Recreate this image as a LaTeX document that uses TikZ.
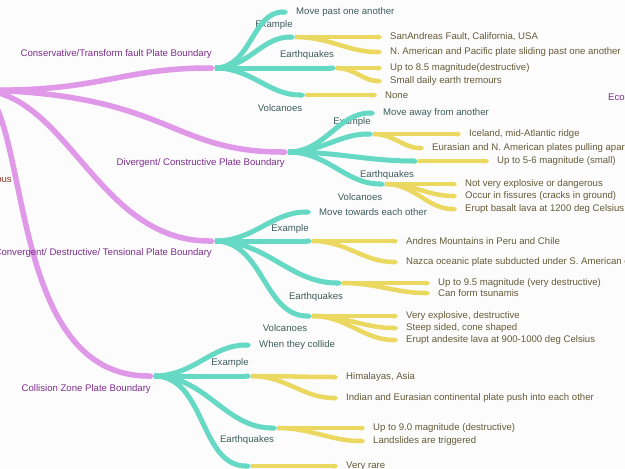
\documentclass[tikz,border=0pt]{standalone}
\usepackage{fontspec}
\setmainfont{Liberation Sans}
\usetikzlibrary{arrows.meta}
\definecolor{bgc}{HTML}{FCFCFC}
\definecolor{pinkc}{HTML}{E098E8}
\definecolor{tealc}{HTML}{66D9C4}
\definecolor{yelc}{HTML}{EBD860}
\definecolor{purpc}{HTML}{7D2E8C}
\definecolor{labc}{HTML}{3E5C5E}
\definecolor{leafc}{HTML}{655A38}
\definecolor{rustc}{HTML}{8B3A2A}

\begin{document}
\begin{tikzpicture}[x=1pt,y=-1pt,
  every node/.style={font=\fontsize{9.6}{11}\selectfont},
  pline/.style={draw=pinkc,line width=5.5pt,-{Triangle Cap[]}},
  tline/.style={draw=tealc,line width=5pt,-{Triangle Cap[]}},
  yline/.style={draw=yelc,line width=4.5pt,-{Triangle Cap[]}},
  leaf/.style={anchor=west,inner xsep=8pt,inner ysep=0pt,text=leafc},
  tleaf/.style={leaf,text=labc},
  tlabel/.style={text=labc,inner sep=0pt},
  plabel/.style={text=purpc,inner sep=0pt,anchor=east}]

  \path[use as bounding box,fill=bgc] (0,0) rectangle (625,469);
  \clip (0,0) rectangle (625,469);

  % junctions
  \coordinate (root) at (-15,90);
  \coordinate (cons) at (215,68);
  \coordinate (div)  at (288,152);
  \coordinate (conv) at (215,241);
  \coordinate (coll) at (154,376);

  % Conservative
  \node[tleaf] (consmove) at (288,12) {Move past one another};
  \coordinate (consex) at (295,37);
  \coordinate (conseq) at (336,68);
  \coordinate (consvo) at (305,95);
  \node[leaf] (consex1) at (382,37) {SanAndreas Fault, California, USA};
  \node[leaf] (consex2) at (382,52) {N. American and Pacific plate sliding past one another};
  \node[leaf] (conseq1) at (382,68) {Up to 8.5 magnitude(destructive)};
  \node[leaf] (conseq2) at (382,81) {Small daily earth tremours};
  \node[leaf] (consvo1) at (377,95) {None};
  \node[tlabel] at (274,25) {Example};
  \node[tlabel] at (307,55) {Earthquakes};
  \node[tlabel] at (280,108) {Volcanoes};

  % Divergent
  \node[tleaf] (divmove) at (375,113) {Move away from another};
  \coordinate (divex) at (373,134);
  \coordinate (diveq) at (418,161);
  \coordinate (divvo) at (385,184);
  \node[leaf] (divex1) at (461,134) {Iceland, mid-Atlantic ridge};
  \node[leaf] (divex2) at (424,148) {Eurasian and N. American plates pulling apart};
  \node[leaf] (diveq1) at (489,161) {Up to 5-6 magnitude (small)};
  \node[leaf] (divvo1) at (457,184) {Not very explosive or dangerous};
  \node[leaf] (divvo2) at (457,196) {Occur in fissures (cracks in ground)};
  \node[leaf] (divvo3) at (457,209) {Erupt basalt lava at 1200 deg Celsius};
  \node[tlabel] at (352,122) {Example};
  \node[tlabel] at (387,175) {Earthquakes};
  \node[tlabel] at (360,197) {Volcanoes};

  % Convergent
  \node[tleaf] (convmove) at (311,212) {Move towards each other};
  \coordinate (convex) at (312,241);
  \coordinate (conveq) at (342,283);
  \coordinate (convvo) at (312,316);
  \node[leaf] (convex1) at (398,241) {Andres Mountains in Peru and Chile};
  \node[leaf] (convex2) at (398,262) {Nazca oceanic plate subducted under S. American continental plate};
  \node[leaf] (conveq1) at (430,283) {Up to 9.5 magnitude (very destructive)};
  \node[leaf] (conveq2) at (430,293) {Can form tsunamis};
  \node[leaf] (convvo1) at (398,316) {Very explosive, destructive};
  \node[leaf] (convvo2) at (398,328) {Steep sided, cone shaped};
  \node[leaf] (convvo3) at (398,340) {Erupt andesite lava at 900-1000 deg Celsius};
  \node[tlabel] at (290,229) {Example};
  \node[tlabel] at (316,297) {Earthquakes};
  \node[tlabel] at (285,328) {Volcanoes};

  % Collision
  \node[tleaf] (collmove) at (251,345) {When they collide};
  \coordinate (collex) at (251,376);
  \coordinate (colleq) at (277,428);
  \coordinate (collvo) at (251,466);
  \node[leaf] (collex1) at (338,377) {Himalayas, Asia};
  \node[leaf] (collex2) at (338,398) {Indian and Eurasian continental plate push into each other};
  \node[leaf] (colleq1) at (365,428) {Up to 9.0 magnitude (destructive)};
  \node[leaf] (colleq2) at (365,441) {Landslides are triggered};
  \node[leaf] (collvo1) at (338,466) {Very rare};
  \node[tlabel] at (230,363) {Example};
  \node[tlabel] at (247,440) {Earthquakes};

  % yellow twigs
  \foreach \a/\b in {consex/consex1,consex/consex2,conseq/conseq1,conseq/conseq2,consvo/consvo1,
                     divex/divex1,divex/divex2,diveq/diveq1,divvo/divvo1,divvo/divvo2,divvo/divvo3,
                     convex/convex1,convex/convex2,conveq/conveq1,conveq/conveq2,
                     convvo/convvo1,convvo/convvo2,convvo/convvo3,
                     collex/collex1,collex/collex2,colleq/colleq1,colleq/colleq2,collvo/collvo1}
    \draw[yline] (\a) to[out=0,in=180] (\b.west);

  % teal branches
  \foreach \a/\b in {cons/consmove.west,cons/consex,cons/conseq,cons/consvo,
                     div/divmove.west,div/divex,div/diveq,div/divvo,
                     conv/convmove.west,conv/convex,conv/conveq,conv/convvo,
                     coll/collmove.west,coll/collex,coll/colleq,coll/collvo}
    \draw[tline] (\a) to[out=0,in=180] (\b);

  % main branches
  \draw[pline] (root) .. controls (100,92) and (120,68) .. (cons);
  \draw[pline] (root) .. controls (170,95) and (170,152) .. (div);
  \draw[pline] (root) .. controls (70,100) and (100,241) .. (conv);
  \draw[pline] (root) .. controls (30,130) and (10,376) .. (coll);

  \node[plabel] at (212,54) {Conservative/Transform fault Plate Boundary};
  \node[plabel] at (285,163) {Divergent/ Constructive Plate Boundary};
  \node[plabel] at (212,253) {Convergent/ Destructive/ Tensional Plate Boundary};
  \node[plabel] at (151,389) {Collision Zone Plate Boundary};
  \node[plabel,text=rustc] at (12,180) {ous};
  \node[plabel,anchor=west] at (608,97) {Eco};
\end{tikzpicture}
\end{document}
